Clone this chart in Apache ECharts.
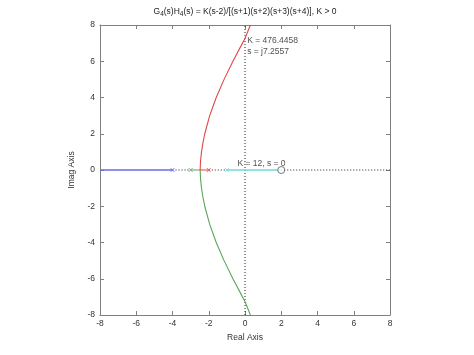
<!DOCTYPE html>
<html><head><meta charset="utf-8">
<script src="https://cdn.jsdelivr.net/npm/echarts@6/dist/echarts.min.js"></script>
<style>html,body{margin:0;padding:0;background:#fff}#c{width:474px;height:355px}</style>
</head><body><div id="c"></div>
<script>
// ---- data ----
const axisMin = -8, axisMax = 8, axisStep = 2;
const poleReal = [-4, -3, -2, -1];
const poleColors = ['#6a6ae6', '#5aa55a', '#e04848', '#70d8d8'];
const zeroReal = [2];
const blueReal = [-8, -4];
const blueImag = [0, 0];
const cyanReal = [-1, 2];
const cyanImag = [0, 0];
const redReal  = [-2, -2.475, -2.4535, -2.399, -2.321, -2.22, -1.947, -1.587, -1.154, -0.666, -0.139, 0, 0.297];
const redImag  = [0, 0, 0.5, 1, 1.5, 2, 3, 4, 5, 6, 7, 7.2557, 8];
const greenReal = [-3, -2.475, -2.4535, -2.399, -2.321, -2.22, -1.947, -1.587, -1.154, -0.666, -0.139, 0, 0.297];
const greenImag = [0, 0, -0.5, -1, -1.5, -2, -3, -4, -5, -6, -7, -7.2557, -8];
// visible parts of the dotted real-axis reference line (gaps between branches)
const dotStart = [-4, -2, 2];
const dotEnd   = [-3, -1, 8];
const noteText = ['K = 476.4458\ns = j7.2557', 'K = 12, s = 0'];
const noteReal = [0.12, -0.42];
const noteImag = [6.83, 0.37];

const FONT = 'Liberation Sans, Arial, sans-serif';
const zip = (a, b) => a.map((v, i) => [v, b[i]]);
const chart = echarts.init(document.getElementById('c'), null, {renderer: 'canvas'});

const frame = {show: true, onZero: false, lineStyle: {color: '#808080', width: 1}};
const tick = {show: true, inside: true, length: 4, lineStyle: {color: '#808080'}};
const lbl = {fontSize: 8.5, color: '#333', fontFamily: FONT};

const lineSeries = (re, im, color, w) => ({
  type: 'line', data: zip(re, im), showSymbol: false, symbol: 'none',
  lineStyle: {color, width: w}, z: 3, animation: false, clip: true
});
const xPath = 'path://M0,0L10,10M10,0L0,10';
const dotted = {color: '#222', width: 1, type: [1, 2]};

chart.setOption({
  animation: false,
  grid: {left: 100, top: 25, width: 290, height: 290},
  xAxis: [
    {type: 'value', min: axisMin, max: axisMax, interval: axisStep, position: 'bottom',
     axisLine: frame, axisTick: tick, splitLine: {show: false},
     axisLabel: Object.assign({margin: 4}, lbl),
     name: 'Real Axis', nameLocation: 'middle', nameGap: 17,
     nameTextStyle: {fontSize: 8.5, color: '#333', fontFamily: FONT}},
    {type: 'value', min: axisMin, max: axisMax, interval: axisStep, position: 'top',
     axisLine: frame, axisTick: tick, splitLine: {show: false}, axisLabel: {show: false}}
  ],
  yAxis: [
    {type: 'value', min: axisMin, max: axisMax, interval: axisStep, position: 'left',
     axisLine: frame, axisTick: tick, splitLine: {show: false},
     axisLabel: Object.assign({margin: 5}, lbl),
     name: 'Imag Axis', nameLocation: 'middle', nameGap: 24, nameRotate: 90,
     nameTextStyle: {fontSize: 8.5, color: '#333', fontFamily: FONT}},
    {type: 'value', min: axisMin, max: axisMax, interval: axisStep, position: 'right',
     axisLine: frame, axisTick: tick, splitLine: {show: false}, axisLabel: {show: false}}
  ],
  graphic: [{
    type: 'text', x: 245, y: 12,
    style: {
      text: '{n|G}{s|4}{n|(s)H}{s|4}{n|(s) = K(s-2)/[(s+1)(s+2)(s+3)(s+4)], K > 0}',
      rich: {
        n: {fontSize: 8.5, fontFamily: FONT, fill: '#222'},
        s: {fontSize: 6.5, fontFamily: FONT, fill: '#222', padding: [5, 0, 0, 0]}
      },
      align: 'center', verticalAlign: 'middle'
    }
  }],
  series: [
    ...dotStart.map((s, i) => ({type: 'line', data: [[s, 0], [dotEnd[i], 0]], showSymbol: false,
      symbol: 'none', lineStyle: dotted, z: 2})),
    {type: 'line', data: [[0, axisMin], [0, axisMax]], showSymbol: false, symbol: 'none',
     lineStyle: dotted, z: 2},
    lineSeries(blueReal, blueImag, poleColors[0], 1.3),
    lineSeries(greenReal, greenImag, poleColors[1], 1.1),
    lineSeries(redReal, redImag, poleColors[2], 1.1),
    lineSeries(cyanReal, cyanImag, poleColors[3], 1.3),
    {type: 'scatter', z: 4,
     data: poleReal.map((p, i) => ({value: [p, 0], itemStyle: {color: 'none', borderColor: poleColors[i], borderWidth: 1}})),
     symbol: xPath, symbolSize: 4},
    {type: 'scatter', z: 4, data: zeroReal.map(z => [z, 0]), symbol: 'circle', symbolSize: 7,
     itemStyle: {color: '#fff', borderColor: '#555', borderWidth: 1}},
    {type: 'scatter', z: 5, symbolSize: 0, silent: true,
     data: noteText.map((t, i) => ({value: [noteReal[i], noteImag[i]],
       label: {show: true, formatter: t, position: 'right', distance: 0, fontSize: 8.5,
               lineHeight: 11, color: '#222', fontFamily: FONT}}))}
  ]
});
</script></body></html>
